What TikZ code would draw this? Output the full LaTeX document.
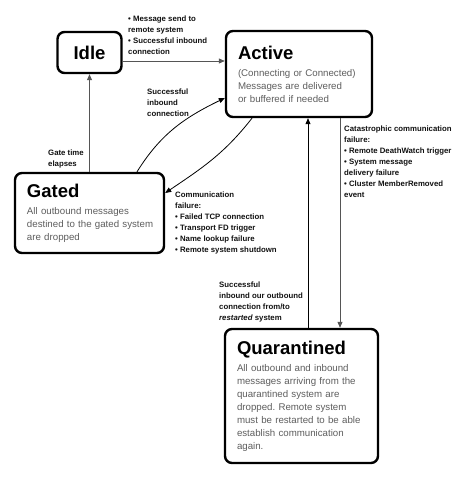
\documentclass[tikz,border=0pt]{standalone}
\usepackage{fontspec}
\setmainfont{Liberation Sans}
\usetikzlibrary{arrows.meta,calc}
\definecolor{ink}{HTML}{111111}
\definecolor{bodygray}{HTML}{5E5E5E}
\definecolor{wire}{HTML}{555555}
\frenchspacing
\newcommand{\statetitle}[1]{{\fontsize{18.5}{20}\selectfont\bfseries #1}}
\newcommand{\bline}[1]{\mbox{#1}}
\tikzset{
  state/.style={draw=black,line width=2.4pt,rounded corners=7pt,fill=white,align=left,
    inner xsep=12pt,inner ysep=0pt,text=bodygray,font=\fontsize{9.7}{13}\selectfont},
  note/.style={font=\bfseries\fontsize{7.8}{11}\selectfont,text=ink,align=left,
    inner sep=0pt,anchor=north west},
  arr/.style={-{Triangle[length=6pt,width=5pt]},line width=0.8pt,draw=black},
  grayarr/.style={arr,draw=wire},
}
\begin{document}
\begin{tikzpicture}[x=1pt,y=1pt]
  \useasboundingbox (0,0) rectangle (474,479);
  % states
  \node[state,align=center,text width=40pt,minimum width=64pt,minimum height=41pt]
    (idle) at (89.5,426.5) {\textcolor{black}{\statetitle{Idle}}};
  \node[state,text width=122pt,minimum width=146pt,minimum height=86pt] (active) at (299,405)
    {\textcolor{black}{\statetitle{Active}}\\[4pt]
     \bline{(Connecting or Connected)}\\ \bline{Messages are delivered}\\ \bline{or buffered if needed}};
  \node[state,text width=125pt,minimum width=149pt,minimum height=80pt] (gated) at (89.5,266)
    {\textcolor{black}{\statetitle{Gated}}\\[4pt]
     \bline{All outbound messages}\\ \bline{destined to the gated system}\\ \bline{are dropped}};
  \node[state,text width=129pt,minimum width=153pt,minimum height=134pt] (quar) at (301.5,83)
    {\textcolor{black}{\statetitle{Quarantined}}\\[4pt]
     \bline{All outbound and inbound}\\ \bline{messages arriving from the}\\
     \bline{quarantined system are}\\ \bline{dropped. Remote system}\\
     \bline{must be restarted to be able}\\ \bline{establish communication}\\ \bline{again.}};
  % transitions
  \draw[grayarr] ([yshift=-8.5pt]idle.east) -- ([yshift=-8.5pt]idle.east -| active.west);
  \draw[grayarr] (gated.north) -- (idle.south);
  \draw[arr] ([xshift=47.5pt]gated.north) to[out=58,in=206] ([yshift=-24pt]active.west);
  \draw[arr] ([xshift=-47pt]active.south) to[out=-128,in=34] ([yshift=20pt]gated.east);
  \draw[arr] ([xshift=6.5pt]quar.north) -- ([xshift=6.5pt]quar.north |- active.south);
  \draw[grayarr] ([xshift=38.5pt]quar.north |- active.south) -- ([xshift=38.5pt]quar.north);
  % labels
  \node[note] (idleactivelbl) at (128,463.5) {\textbullet{} Message send to\\ remote system\\
    \textbullet{} Successful inbound\\ connection};
  \node[note] (gatedactivelbl) at (147,390.5) {Successful\\ inbound\\ connection};
  \node[note] (gatedidlelbl) at (48,329.5) {Gate time\\ elapses};
  \node[note] (activegatedlbl) at (175,287.5) {Communication\\ failure:\\
    \textbullet{} Failed TCP connection\\ \textbullet{} Transport FD trigger\\
    \textbullet{} Name lookup failure\\ \textbullet{} Remote system shutdown};
  \node[note] (activequarlbl) at (344,353.5) {Catastrophic communication\\ failure:\\
    \textbullet{} Remote DeathWatch trigger\\ \textbullet{} System message\\ delivery failure\\
    \textbullet{} Cluster MemberRemoved\\ event};
  \node[note] (quaractivelbl) at (219,197.5) {Successful\\ inbound our outbound\\
    connection from/to\\ \textit{restarted} system};
\end{tikzpicture}
\end{document}
